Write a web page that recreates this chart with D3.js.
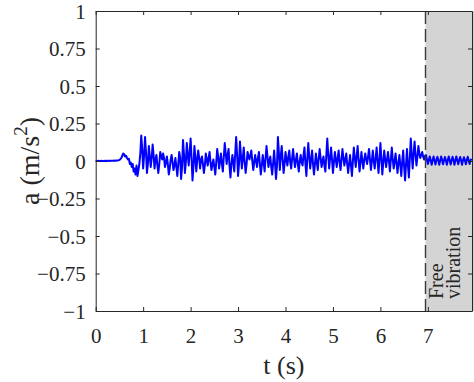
<!DOCTYPE html>
<html>
<head>
<meta charset="utf-8">
<script src="https://cdn.jsdelivr.net/npm/d3@7"></script>
<style>
  html, body { margin: 0; padding: 0; background: #fff; }
  svg { display: block; }
  text { font-family: "Liberation Serif", "Times New Roman", serif; fill: #262626; }
</style>
</head>
<body>
<svg id="chart" width="474" height="382"></svg>
<script>
// ---- data ----
const sampleStep = 0.02; // s between samples
const accel = [
  0, 0, 0, 0.001, 0, 0, 0.001, 0, 0, 0.001,
  0, 0.001, 0, 0.002, 0.001, 0, 0.002, 0.001, 0.002, 0.002,
  0.003, 0.002, 0.004, 0.003, 0.005, 0.008, 0.012, 0.02, 0.035, 0.05,
  0.045, 0.03, 0.035, 0.02, 0.01, 0.015, -0.02, -0.01, -0.04, -0.02,
  -0.07, -0.05, -0.09, -0.03, -0.10, -0.06, -0.02, 0.05, 0.17, 0.08,
  -0.05, 0.04, 0.16, 0.06, -0.08, -0.02, 0.10, 0.03, -0.04, 0.02,
  0.11, 0.04, -0.05, 0.01, 0.04, -0.03, -0.08, -0.02, 0.06, 0.03,
  0.01, 0.05, 0.02, -0.04, -0.01, 0.03, -0.02, -0.09, -0.05, 0.01,
  0.04, -0.01, -0.06, -0.03, 0.02, -0.04, -0.10, -0.02, 0.06, 0.02,
  -0.12, -0.04, 0.14, 0.05, -0.08, -0.01, 0.12, 0.04, -0.03, 0.06,
  0.15, 0.02, -0.13, -0.04, 0.10, 0.03, -0.07, 0.01, 0.07, 0.02,
  -0.05, 0.01, 0.03, -0.02, -0.08, -0.03, 0.05, 0.01, -0.03, 0.02,
  0.06, -0.01, -0.06, -0.02, 0.01, -0.04, -0.09, -0.01, 0.08, 0.03,
  -0.05, 0.00, 0.05, -0.02, -0.07, 0.03, 0.12, 0.05, -0.02, 0.04,
  0.08, -0.03, -0.11, -0.02, 0.04, -0.01, -0.07, 0.05, 0.16, 0.04,
  -0.10, -0.02, 0.13, 0.04, -0.05, 0.02, 0.09, -0.01, -0.08, -0.02,
  0.06, 0.03, 0.01, 0.04, 0.07, 0.00, -0.06, -0.01, 0.04, 0.00,
  -0.04, 0.02, 0.06, -0.02, -0.09, -0.03, 0.04, -0.01, -0.07, 0.02,
  0.10, 0.03, -0.04, 0.00, 0.03, -0.04, -0.09, -0.01, 0.07, -0.02,
  -0.12, -0.03, 0.16, 0.06, -0.06, 0.03, 0.10, 0.01, -0.08, -0.02,
  0.06, 0.01, -0.03, 0.03, 0.07, -0.01, -0.05, 0.02, 0.08, 0.01,
  -0.04, 0.01, 0.05, -0.02, -0.07, 0.00, 0.04, -0.01, -0.03, 0.04,
  0.09, -0.02, -0.10, 0.02, 0.12, 0.03, -0.05, 0.01, 0.07, -0.02,
  -0.09, -0.02, 0.05, -0.01, -0.06, 0.02, 0.08, 0.02, -0.04, 0.00,
  0.03, -0.03, -0.07, 0.04, 0.15, 0.04, -0.05, 0.02, 0.09, 0.01,
  -0.08, -0.01, 0.06, 0.01, -0.04, 0.02, 0.07, -0.01, -0.06, 0.01,
  0.08, 0.02, -0.03, 0.01, 0.05, -0.02, -0.08, -0.02, 0.04, -0.03,
  -0.10, 0.00, 0.09, 0.02, -0.04, 0.03, 0.10, 0.01, -0.07, -0.01,
  0.06, 0.00, -0.05, 0.01, 0.05, 0.01, -0.02, 0.03, 0.08, 0.01,
  -0.06, 0.00, 0.07, 0.00, -0.05, 0.02, 0.09, 0.00, -0.08, 0.01,
  0.12, 0.02, -0.09, -0.01, 0.07, 0.01, -0.04, 0.01, 0.06, 0.00,
  -0.07, 0.01, 0.09, 0.01, -0.05, 0.00, 0.05, -0.02, -0.08, -0.01,
  0.04, -0.03, -0.10, 0.00, 0.07, -0.04, -0.13, -0.02, 0.08, -0.03,
  -0.11, 0.02, 0.15, 0.04, -0.05, 0.05, 0.13, 0.04, -0.03, 0.03,
  0.10, 0.05, 0.02, 0.04, 0.06, 0.03, 0.01, 0.035, 0.04, 0.01,
  -0.02, 0.005, 0.03, 0.005, -0.025, 0.005, 0.03, 0.004, -0.024, 0.006,
  0.028, 0.005, -0.025, 0.004, 0.03, 0.006, -0.022, 0.005, 0.027, 0.004,
  -0.025, 0.006, 0.03, 0.005, -0.023, 0.004, 0.028, 0.006, -0.025, 0.005,
  0.03, 0.004, -0.022, 0.006, 0.027, 0.005, -0.025, 0.004, 0.025, 0.006,
  -0.022, 0.005, 0.028, 0.004, -0.02, 0.005, 0.015
];
const xDomain = [0, 7.93];
const yDomain = [-1, 1];
const xTicks = [0, 1, 2, 3, 4, 5, 6, 7];
const yTicks = [-1, -0.75, -0.5, -0.25, 0, 0.25, 0.5, 0.75, 1];
const freeStart = 6.95;
const xTitle = "t (s)";
const regionLabel = ["Free", "vibration"];

// ---- layout ----
const svg = d3.select("#chart");
const L = 95.7, R = 472, T = 11, B = 311;
const x = d3.scaleLinear().domain(xDomain).range([L, R]);
const y = d3.scaleLinear().domain(yDomain).range([B, T]);
const axisColor = "#262626";
const serif = "'Liberation Serif', 'Times New Roman', serif";
const fmt = v => (v < 0 ? "\u2212" : "") + String(Math.abs(v));

// shaded free-vibration region
svg.append("rect")
  .attr("x", x(freeStart)).attr("y", T)
  .attr("width", 474 - x(freeStart)).attr("height", B - T)
  .attr("fill", "#d4d4d4");

// signal
const pts = accel.map((v, i) => [i * sampleStep, v]);
svg.append("path")
  .datum(pts)
  .attr("fill", "none")
  .attr("stroke", "#0000ff")
  .attr("stroke-width", 2)
  .attr("stroke-linejoin", "round")
  .attr("d", d3.line().x(d => x(d[0])).y(d => y(d[1])));

// dashed boundary
svg.append("line")
  .attr("x1", x(freeStart)).attr("x2", x(freeStart))
  .attr("y1", T).attr("y2", B)
  .attr("stroke", "#3a3a3a").attr("stroke-width", 1.4)
  .attr("stroke-dasharray", "13,5");

// axes (MATLAB box style, inward ticks)
const tickLen = 4;
const gB = svg.append("g").attr("transform", `translate(0,${B})`)
  .call(d3.axisBottom(x).tickValues(xTicks).tickSizeInner(-tickLen).tickSizeOuter(0).tickPadding(0).tickFormat(fmt));
const gT = svg.append("g").attr("transform", `translate(0,${T})`)
  .call(d3.axisTop(x).tickValues(xTicks).tickSizeInner(-tickLen).tickSizeOuter(0).tickFormat(""));
const gL = svg.append("g").attr("transform", `translate(${L},0)`)
  .call(d3.axisLeft(y).tickValues(yTicks).tickSizeInner(-tickLen).tickSizeOuter(0).tickPadding(0).tickFormat(fmt));
const gR = svg.append("g").attr("transform", `translate(${R},0)`)
  .call(d3.axisRight(y).tickValues(yTicks).tickSizeInner(-tickLen).tickSizeOuter(0).tickFormat(""));

[gB, gT, gL, gR].forEach(g => {
  g.attr("font-family", serif).attr("font-size", 21);
  g.select(".domain").attr("stroke", axisColor).attr("stroke-width", 1);
  g.selectAll(".tick line").attr("stroke", axisColor).attr("stroke-width", 1);
  g.selectAll("text").style("font-family", serif).style("font-size", "21px").attr("fill", axisColor);
});
gB.selectAll(".tick text").attr("dy", null).attr("y", 32);
gL.selectAll(".tick text").attr("x", -10).attr("dy", "0.34em");

// axis titles
svg.append("text")
  .attr("x", (L + R) / 2).attr("y", 374)
  .attr("text-anchor", "middle")
  .style("font-family", serif)
  .style("font-size", "26px")
  .text(xTitle);

const yt = svg.append("text")
  .attr("transform", `translate(39,${(T + B) / 2}) rotate(-90)`)
  .attr("text-anchor", "middle")
  .style("font-family", serif)
  .style("font-size", "28px");
yt.append("tspan").text("a (m/s");
yt.append("tspan").attr("dy", -12).style("font-size", "19px").text("2");
yt.append("tspan").attr("dy", 12).text(")");

// region label
regionLabel.forEach((s, i) => {
  svg.append("text")
    .attr("transform", `translate(${443 + i * 17},${B - 12}) rotate(-90)`)
    .attr("text-anchor", "start")
    .style("font-family", serif)
    .style("font-size", "20px")
    .text(s);
});
</script>
</body>
</html>
